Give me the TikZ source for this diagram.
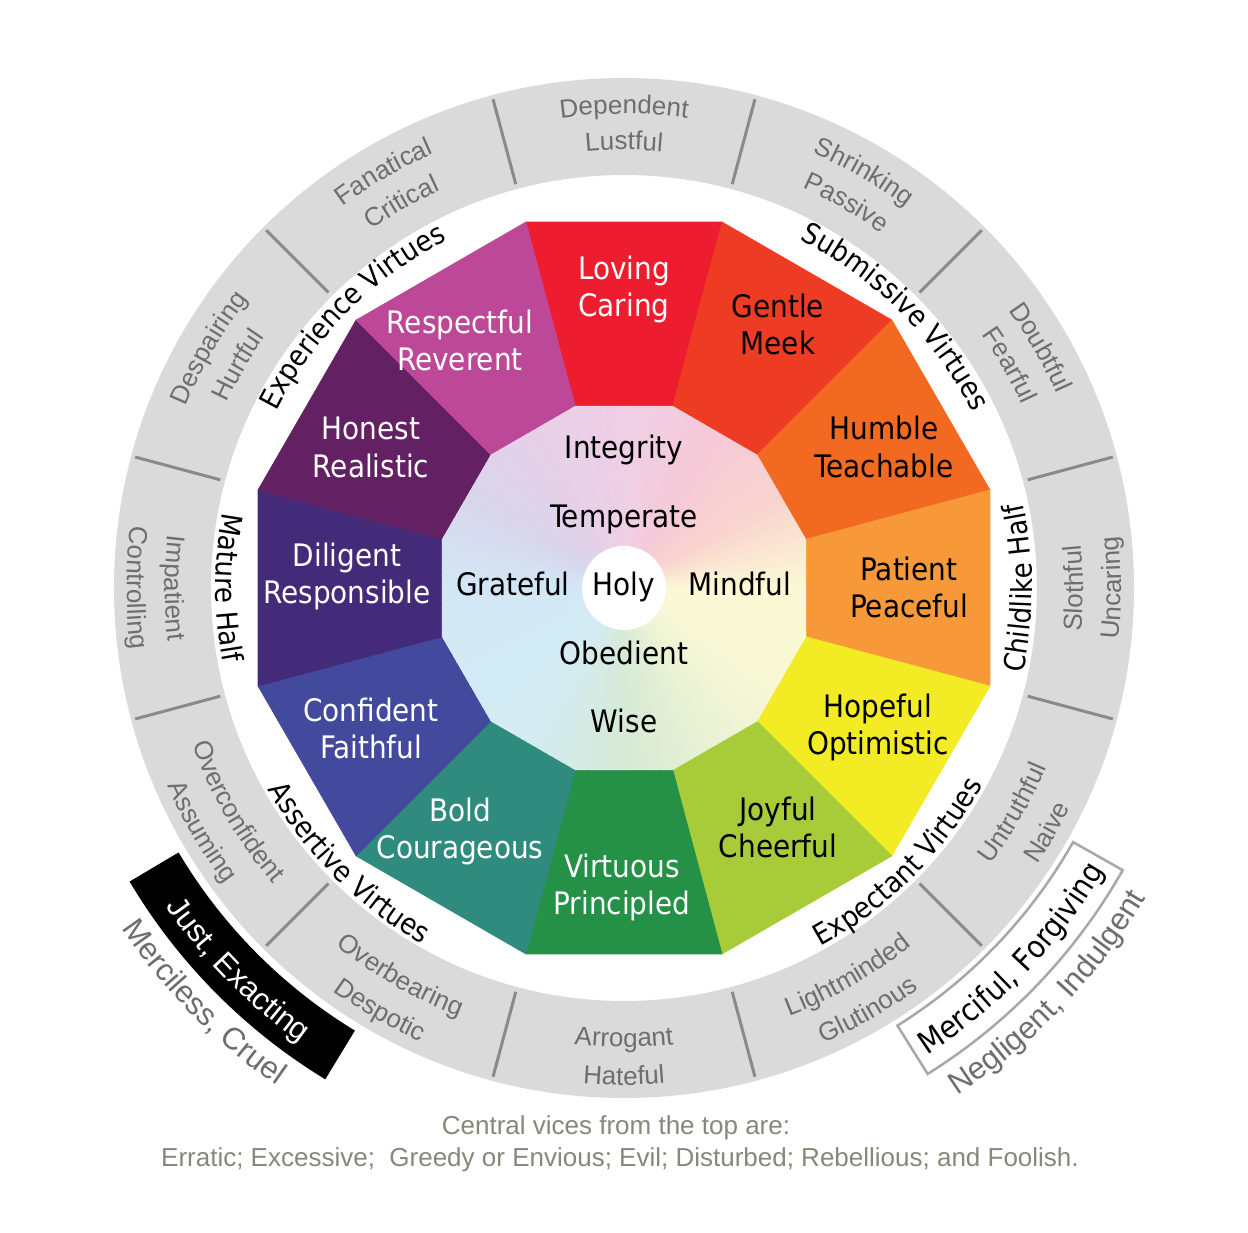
\documentclass[tikz,border=0pt]{standalone}
\usepackage{fontspec}
\usetikzlibrary{decorations.text}
\setmainfont{Liberation Sans}
\newfontfamily\lblfont{Liberation Sans}
\IfFontExistsTF{DejaVu Sans Condensed}{\newfontfamily\segfont{DejaVu Sans Condensed}}{\newfontfamily\segfont{DejaVu Sans}[FakeStretch=0.89]}
\definecolor{ringgray}{HTML}{DADADA}
\definecolor{sepgray}{HTML}{8A8A8A}
\definecolor{lblgray}{HTML}{6E6E6E}
\definecolor{botgray}{HTML}{87877A}
\definecolor{boxgray}{HTML}{A8A8A8}
\definecolor{cLoving}{HTML}{ED1C2E}
\definecolor{cGentle}{HTML}{EE3C24}
\definecolor{cHumble}{HTML}{F26A22}
\definecolor{cPatient}{HTML}{F79839}
\definecolor{cHopeful}{HTML}{F3EB23}
\definecolor{cJoyful}{HTML}{A8CB3A}
\definecolor{cVirtuous}{HTML}{249146}
\definecolor{cBold}{HTML}{2E8B7D}
\definecolor{cConfident}{HTML}{434A9E}
\definecolor{cDiligent}{HTML}{442B7A}
\definecolor{cHonest}{HTML}{632063}
\definecolor{cRespect}{HTML}{BE4898}
% centre gradient stops (every 30 degrees from -90)
\definecolor{gA}{HTML}{D6EAD6}
\definecolor{gB}{HTML}{EAF2D4}
\definecolor{gC}{HTML}{F9F8D6}
\definecolor{gD}{HTML}{FBF8D4}
\definecolor{gE}{HTML}{F9D4CF}
\definecolor{gF}{HTML}{F6CAD8}
\definecolor{gG}{HTML}{EFCFE5}
\definecolor{gH}{HTML}{E6D0E8}
\definecolor{gI}{HTML}{D9D6EC}
\definecolor{gJ}{HTML}{D2E7F5}
\definecolor{gK}{HTML}{D3EBF6}
\definecolor{gL}{HTML}{D4EBF1}
\newcommand\fLbl{\lblfont\fontsize{26}{30}\selectfont\color{lblgray}}
\newcommand\fBand{\segfont\fontsize{29}{34}\selectfont\color{black}}
\newcommand\fOut{\lblfont\fontsize{31}{36}\selectfont\color{lblgray}}
\newcommand\fJust{\lblfont\fontsize{31}{36}\selectfont\color{white}}
\newcommand\fMerc{\segfont\fontsize{31}{36}\selectfont\color{black}}
% text on a clockwise arc (letters outward)
\newcommand\arcTop[4]{\path[decorate,decoration={text along path,text align=center,text={|#3|#4}}] (#1+70:#2) arc[start angle=#1+70,end angle=#1-70,radius=#2];}
% text on a counter-clockwise arc (letters inward)
\newcommand\arcBot[4]{\path[decorate,decoration={text along path,text align=center,text={|#3|#4}}] (#1-70:#2) arc[start angle=#1-70,end angle=#1+70,radius=#2];}
\begin{document}
\begin{tikzpicture}[x=1pt,y=1pt,
  seg/.style={font=\segfont\fontsize{31}{37}\selectfont,inner sep=0pt,anchor=base},
  segw/.style={seg,text=white},
  segb/.style={seg,text=black},
  bot/.style={font=\lblfont\fontsize{26}{31}\selectfont,text=botgray,inner sep=0pt,anchor=base}]
\useasboundingbox (-624,-644) rectangle (624,588);
\fill[white] (-624,-644) rectangle (624,588);
% outer gray ring
\fill[ringgray,even odd rule] (0,0) circle (510) (0,0) circle (413);
\foreach \a in {15,45,...,345} \draw[sepgray,line width=3] (\a:418) -- (\a:506);
% coloured segments
\def\Ro{378.9}
\def\Ri{188.42}
\foreach \t/\c in {90/cLoving,60/cGentle,30/cHumble,0/cPatient,-30/cHopeful,-60/cJoyful,-90/cVirtuous,-120/cBold,-150/cConfident,180/cDiligent,150/cHonest,120/cRespect}
  \filldraw[fill=\c,draw=\c,line width=0.6] (\t+15:\Ro) -- (\t-15:\Ro) -- (\t-15:\Ri) -- (\t+15:\Ri) -- cycle;
% centre gradient
\begin{scope}
\clip (15:\Ri) -- (45:\Ri) -- (75:\Ri) -- (105:\Ri) -- (135:\Ri) -- (165:\Ri) -- (195:\Ri) -- (225:\Ri) -- (255:\Ri) -- (285:\Ri) -- (315:\Ri) -- (345:\Ri) -- cycle;
\foreach \a/\ca/\cb in {-90/gA/gB,-60/gB/gC,-30/gC/gD,0/gD/gE,30/gE/gF,60/gF/gG,90/gG/gH,120/gH/gI,150/gI/gJ,180/gJ/gK,210/gK/gL,240/gL/gA}{
  \foreach \k in {0,...,14}{
    \pgfmathsetmacro\pp{100-(\k+0.5)*100/15}
    \fill[\ca!\pp!\cb] (0,0) -- (\a+\k*2-0.2:200) -- (\a+\k*2+2.2:200) -- cycle;
  }
}
\end{scope}
\fill[white] (0,0) circle (42);
% segment labels
\node[segw] (s1a) at (0,308) {Loving};
\node[segw] (s1b) at (0,271) {Caring};
\node[segb] (s2a) at (154,270) {Gentle};
\node[segb] (s2b) at (154,233) {Meek};
\node[segb] (s3a) at (260,148) {Humble};
\node[segb] (s3b) at (260,111) {Teachable};
\node[segb] (s4a) at (285,8) {Patient};
\node[segb] (s4b) at (285,-29) {Peaceful};
\node[segb] (s5a) at (254,-129) {Hopeful};
\node[segb] (s5b) at (254,-166) {Optimistic};
\node[segb] (s6a) at (154,-232) {Joyful};
\node[segb] (s6b) at (154,-269) {Cheerful};
\node[segw] (s7a) at (-2,-289) {Virtuous};
\node[segw] (s7b) at (-2,-326) {Principled};
\node[segw] (s8a) at (-164,-233) {Bold};
\node[segw] (s8b) at (-164,-270) {Courageous};
\node[segw] (s9a) at (-253,-133) {Confident};
\node[segw] (s9b) at (-253,-170) {Faithful};
\node[segw] (s10a) at (-277,22) {Diligent};
\node[segw] (s10b) at (-277,-15) {Responsible};
\node[segw] (s11a) at (-253,148) {Honest};
\node[segw] (s11b) at (-253,111) {Realistic};
\node[segw] (s12a) at (-164,254) {Respectful};
\node[segw] (s12b) at (-164,217) {Reverent};
% centre labels
\node[segb] (cInt) at (0,130) {Integrity};
\node[segb] (cTem) at (0,61) {Temperate};
\node[segb] (cGra) at (-111,-7) {Grateful};
\node[segb] (cHol) at (0,-7) {Holy};
\node[segb] (cMin) at (116,-7) {Mindful};
\node[segb] (cObe) at (0,-76) {Obedient};
\node[segb] (cWis) at (0,-144) {Wise};
% gray ring labels, upper (letters outward)
\arcTop{90}{474}{\fLbl}{Dependent}
\arcTop{90}{438}{\fLbl}{Lustful}
\arcTop{60}{474}{\fLbl}{Shrinking}
\arcTop{60}{438}{\fLbl}{Passive}
\arcTop{30}{474}{\fLbl}{Doubtful}
\arcTop{30}{438}{\fLbl}{Fearful}
\arcTop{120}{474}{\fLbl}{Fanatical}
\arcTop{120}{438}{\fLbl}{Critical}
\arcTop{150}{474}{\fLbl}{Despairing}
\arcTop{150}{438}{\fLbl}{Hurtful}
% gray ring labels, lower (letters inward)
\arcBot{0}{459}{\fLbl}{Slothful}
\arcBot{0}{497}{\fLbl}{Uncaring}
\arcBot{-30}{459}{\fLbl}{Untruthful}
\arcBot{-30}{497}{\fLbl}{Naive}
\arcBot{-60}{459}{\fLbl}{Lightminded}
\arcBot{-60}{497}{\fLbl}{Glutinous}
\arcBot{-90}{459}{\fLbl}{Arrogant}
\arcBot{-90}{497}{\fLbl}{Hateful}
\arcBot{-120}{459}{\fLbl}{Overbearing}
\arcBot{-120}{497}{\fLbl}{Despotic}
\arcBot{-150}{459}{\fLbl}{Overconfident}
\arcBot{-150}{497}{\fLbl}{Assuming}
\arcBot{180}{459}{\fLbl}{Impatient}
\arcBot{180}{497}{\fLbl}{Controlling}
% white band labels
\arcTop{135}{390}{\fBand}{Experience Virtues}
\arcTop{45}{390}{\fBand}{Submissive Virtues}
\arcBot{0}{408}{\fBand}{Childlike Half}
\arcBot{180}{408}{\fBand}{Mature Half}
\arcBot{-45}{409}{\fBand}{Expectant Virtues}
\arcBot{-135}{409}{\fBand}{Assertive Virtues}
% black band
\fill[black] (-149.3:518) arc[start angle=-149.3,end angle=-121.3,radius=518] -- (-121.3:575) arc[start angle=-121.3,end angle=-149.3,radius=575] -- cycle;
\arcBot{-135.3}{558}{\fJust}{Just, Exacting}
\arcBot{-135.4}{607}{\fOut}{Merciless, Cruel}
% white box
\filldraw[fill=white,draw=boxgray,line width=2.5] (-58:516) arc[start angle=-58,end angle=-29.5,radius=516] -- (-29.5:573) arc[start angle=-29.5,end angle=-58,radius=573] -- cycle;
\arcBot{-43.75}{557}{\fMerc}{Merciful, Forgiving}
\arcBot{-43.7}{607}{\fOut}{Negligent, Indulgent}
% caption
\node[bot] (cap1) at (-8,-546) {Central vices from the top are:};
\node[bot] (cap2) at (-4,-578) {Erratic; Excessive;~ Greedy or Envious; Evil; Disturbed; Rebellious; and Foolish.};
\end{tikzpicture}
\end{document}
